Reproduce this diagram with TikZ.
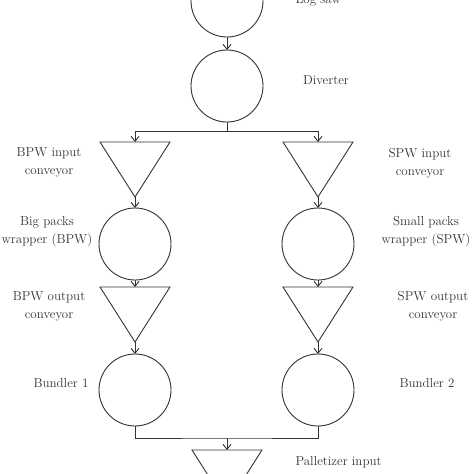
\documentclass[tikz,border=0pt]{standalone}
\usetikzlibrary{arrows.meta,positioning,shapes.geometric}
\begin{document}
\begin{tikzpicture}[x=1pt,y=-1pt,
every node/.style={font=\fontsize{13}{18}\selectfont,text=black!80},
station/.style={circle,draw=black!80,line width=0.9pt,minimum size=72pt,inner sep=0pt,outer sep=0pt},
conv/.style={isosceles triangle,isosceles triangle stretches,shape border rotate=270,draw=black!80,line width=0.9pt,minimum width=70pt,minimum height=55pt,inner sep=0pt,outer sep=0pt,anchor=lower side},
lbl/.style={align=center},
flow/.style={draw=black!80,line width=0.9pt,-{Straight Barb[length=5pt,width=8pt]}},
link/.style={draw=black!80,line width=0.9pt}]
\useasboundingbox (0,0) rectangle (474,474);
\node[station] (logsaw) at (227,1) {};
\node[station] (divert) at (227,86) {};
\node[conv] (bpwin) at (135,142) {};
\node[conv] (spwin) at (318,142) {};
\node[station] (bpw) at (135,244) {};
\node[station] (spw) at (318,244) {};
\node[conv] (bpwout) at (135,287) {};
\node[conv] (spwout) at (318,287) {};
\node[station] (bund1) at (135,390) {};
\node[station] (bund2) at (318,390) {};
\node[conv] (pallet) at (227,450) {};
\coordinate (split) at (227,131);
\coordinate (merge) at (227,438);
\node[lbl,anchor=base west] (Llogsaw) at (292,3) {Log saw};
\node[lbl] (Ldivert) at (326,80) {Diverter};
\node[lbl] (Lbpwin) at (49,162) {BPW input\\conveyor};
\node[lbl] (Lspwin) at (420,163) {SPW input\\conveyor};
\node[lbl] (Lbpw) at (47,232) {Big packs\\wrapper (BPW)};
\node[lbl] (Lspw) at (426,232) {Small packs\\wrapper (SPW)};
\node[lbl] (Lbpwout) at (49,306) {BPW output\\conveyor};
\node[lbl] (Lspwout) at (433,306) {SPW output\\conveyor};
\node[lbl] (Lbund1) at (61,383) {Bundler 1};
\node[lbl] (Lbund2) at (427,383) {Bundler 2};
\node[lbl,anchor=west] (Lpallet) at (292,462) {Palletizer input};
\draw[flow] (logsaw.south) -- (divert.north);
\draw[link] (divert.south) -- (split);
\draw[flow] (split) -| (bpwin.lower side);
\draw[flow] (split) -| (spwin.lower side);
\draw[flow] (bpwin.apex) -- (bpw.north);
\draw[flow] (spwin.apex) -- (spw.north);
\draw[flow] (bpw.south) -- (bpwout.lower side);
\draw[flow] (spw.south) -- (spwout.lower side);
\draw[flow] (bpwout.apex) -- (bund1.north);
\draw[flow] (spwout.apex) -- (bund2.north);
\draw[link] (bund1.south) |- (merge) -| (bund2.south);
\draw[flow] (merge) -- (pallet.lower side);
\end{tikzpicture}
\end{document}
